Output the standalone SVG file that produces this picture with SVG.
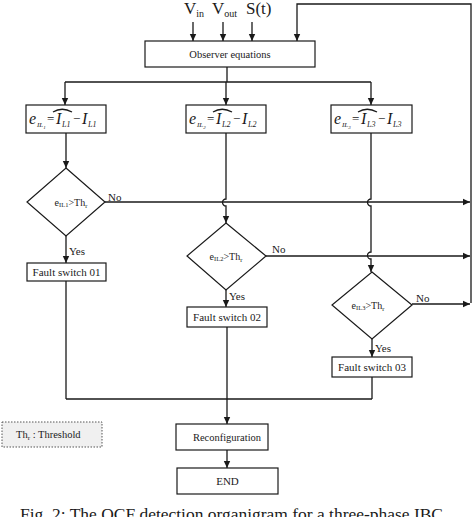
<svg xmlns="http://www.w3.org/2000/svg" width="474" height="517" viewBox="0 0 474 517">
<defs>
<marker id="ah" markerUnits="userSpaceOnUse" markerWidth="8" markerHeight="8" refX="7" refY="4" orient="auto">
<path d="M0,0.8 L7,4 L0,7.2 Z" fill="#1a1a1a"/>
</marker>
<g id="eqbody">
<text class="eq" font-size="16" x="3" y="19">e</text>
<text class="t" font-size="13" x="21" y="18">=</text>
<path class="ln" d="M27,7 Q36,1.5 46,7" stroke-width="0.9"/>
<text class="eq" font-size="16" x="30" y="19">I</text>
<text class="t" font-size="13" x="47" y="18">−</text>
<text class="eq" font-size="16" x="56" y="19">I</text>
</g>
</defs>
<style>
.box{fill:#fff;stroke:#1a1a1a;stroke-width:1.2}
.ln{fill:none;stroke:#1a1a1a;stroke-width:1.3}
.arr{fill:none;stroke:#1a1a1a;stroke-width:1.3;marker-end:url(#ah)}
.t{font-family:"Liberation Serif","DejaVu Serif",serif;fill:#1a1a1a}
.lbl{font-family:"Liberation Serif","DejaVu Serif",serif;font-size:11px;fill:#1a1a1a}
.eq{font-family:"Liberation Serif","DejaVu Serif",serif;font-style:italic;fill:#1a1a1a}
</style>
<rect width="474" height="517" fill="#fff"/>

<g id="connectors">
<path class="arr" d="M193,22 V41"/>
<path class="arr" d="M223,22 V41"/>
<path class="arr" d="M252,22 V41"/>
<path class="arr" d="M471,303 V4 H297 V41"/>
<path class="ln" d="M227,67 V82 M65,82 H371"/>
<path class="arr" d="M65,82 V105"/>
<path class="arr" d="M226,82 V105"/>
<path class="arr" d="M371,82 V105"/>
<path class="arr" d="M66,133 V168"/>
<path class="arr" d="M226,133 V199 A3.5,3.5 0 0 0 226,206 V223"/>
<path class="arr" d="M371,133 V199 A3.5,3.5 0 0 0 371,206 V252 A3.5,3.5 0 0 0 371,259 V272"/>
<path class="arr" d="M105,202 H470"/>
<path class="arr" d="M266,256 H470"/>
<path class="arr" d="M412,304 H470"/>
<path class="arr" d="M66,236 V263"/>
<path class="arr" d="M226,290 V307"/>
<path class="arr" d="M372,339 V357"/>
<path class="ln" d="M66,281 V399 M227,327 V399 M372,377 V399 M66,399 H372"/>
<path class="arr" d="M227,399 V424"/>
<path class="arr" d="M227,450 V468"/>
<text class="lbl" x="108" y="201">No</text>
<text class="lbl" x="272" y="253">No</text>
<text class="lbl" x="416" y="302">No</text>
<text class="lbl" x="69" y="255">Yes</text>
<text class="lbl" x="229" y="300">Yes</text>
<text class="lbl" x="375" y="352">Yes</text>
</g>

<g id="inputs">
<text class="t" font-size="17" x="184" y="14">V<tspan font-size="10" dy="3">in</tspan></text>
<text class="t" font-size="17" x="212" y="14">V<tspan font-size="10" dy="3">out</tspan></text>
<text class="t" font-size="17" x="246" y="14">S(t)</text>
</g>

<g id="observer">
<rect class="box" x="145" y="41" width="170" height="26"/>
<text class="t" font-size="10.5" x="230" y="58" text-anchor="middle">Observer equations</text>
</g>

<g id="eq1" transform="translate(26,105)">
<rect class="box" x="0" y="0" width="80" height="28"/>
<use href="#eqbody"/>
<text class="eq" font-size="7" x="11" y="22">IL<tspan font-size="5" dy="1.5">1</tspan></text>
<text class="eq" font-size="8" x="36" y="22">L1</text>
<text class="eq" font-size="8" x="62" y="22">L1</text>
</g>
<g id="eq2" transform="translate(186,105)">
<rect class="box" x="0" y="0" width="80" height="28"/>
<use href="#eqbody"/>
<text class="eq" font-size="7" x="11" y="22">IL<tspan font-size="5" dy="1.5">2</tspan></text>
<text class="eq" font-size="8" x="36" y="22">L2</text>
<text class="eq" font-size="8" x="62" y="22">L2</text>
</g>
<g id="eq3" transform="translate(331,105)">
<rect class="box" x="0" y="0" width="81" height="28"/>
<use href="#eqbody"/>
<text class="eq" font-size="7" x="11" y="22">IL<tspan font-size="5" dy="1.5">3</tspan></text>
<text class="eq" font-size="8" x="36" y="22">L3</text>
<text class="eq" font-size="8" x="62" y="22">L3</text>
</g>

<g id="dec1">
<polygon class="box" points="66,168 105,202 66,236 27,202"/>
<text class="t" font-size="10" x="71" y="206" text-anchor="middle">e<tspan font-size="6.5" dy="1">IL1</tspan><tspan dy="-1">&gt;Th</tspan><tspan font-size="6.5" dy="2">r</tspan></text>
</g>
<g id="dec2">
<polygon class="box" points="226,223 266,256 226,290 187,256"/>
<text class="t" font-size="10" x="226" y="260" text-anchor="middle">e<tspan font-size="6.5" dy="1">IL2</tspan><tspan dy="-1">&gt;Th</tspan><tspan font-size="6.5" dy="2">r</tspan></text>
</g>
<g id="dec3">
<polygon class="box" points="372,272 412,305 372,339 332,305"/>
<text class="t" font-size="10" x="368" y="309" text-anchor="middle">e<tspan font-size="6.5" dy="1">IL3</tspan><tspan dy="-1">&gt;Th</tspan><tspan font-size="6.5" dy="2">r</tspan></text>
</g>

<g id="fs1">
<rect class="box" x="27" y="263" width="79" height="18"/>
<text class="t" font-size="11" x="66.5" y="276" text-anchor="middle">Fault switch 01</text>
</g>
<g id="fs2">
<rect class="box" x="187" y="307" width="80" height="20"/>
<text class="t" font-size="11" x="227" y="321" text-anchor="middle">Fault switch 02</text>
</g>
<g id="fs3">
<rect class="box" x="332" y="357" width="80" height="20"/>
<text class="t" font-size="11" x="372" y="371" text-anchor="middle">Fault switch 03</text>
</g>

<g id="legend">
<rect x="2" y="422" width="100" height="25" fill="#f0f0f0" stroke="#555" stroke-width="1" stroke-dasharray="1.5,1.5"/>
<text class="t" font-size="10.5" x="16" y="438">Th<tspan font-size="7" dy="2">r</tspan><tspan dy="-2"> : Threshold</tspan></text>
</g>

<g id="reconfig">
<rect class="box" x="176" y="424" width="92" height="26"/>
<text class="t" font-size="10.5" x="227" y="441" text-anchor="middle">Reconfiguration</text>
</g>
<g id="end">
<rect class="box" x="177" y="468" width="101" height="26" stroke-width="1.8"/>
<text class="t" font-size="11" x="227.5" y="485" text-anchor="middle">END</text>
</g>

<text class="t" font-size="17" x="20" y="520" textLength="423" lengthAdjust="spacingAndGlyphs">Fig. 2: The OCF detection organigram for a three-phase IBC</text>
</svg>
